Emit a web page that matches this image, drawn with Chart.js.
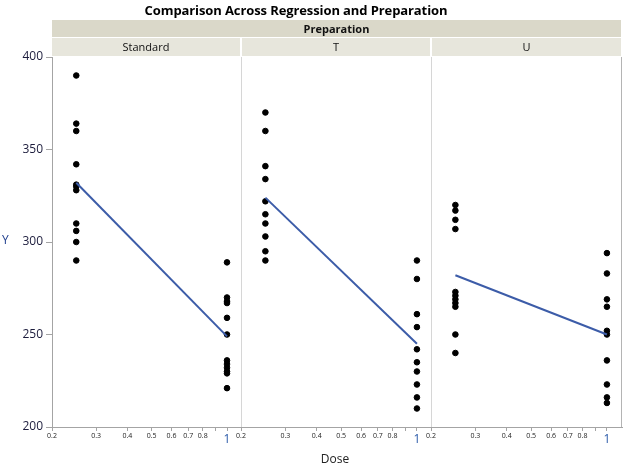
<!DOCTYPE html>
<html>
<head>
<meta charset="utf-8">
<script src="https://cdn.jsdelivr.net/npm/chart.js@4/dist/chart.umd.min.js"></script>
<style>
  body { margin: 0; background: #fff; font-family: "Open Sans", sans-serif; }
  #wrap { position: relative; width: 624px; height: 471px; overflow: hidden; }
  .box { position: absolute; top: 0; height: 471px; }
  .txt { position: absolute; white-space: nowrap; z-index: 2; }
  #titulo { left: 0; width: 592px; top: 1px; text-align: center; font-weight: bold; font-size: 13px; color: #000; letter-spacing: -0.1px; }
  #grupo { left: 52px; width: 569px; top: 20px; height: 17px; line-height: 17px; background: #dad8c9; text-align: center; font-weight: bold; font-size: 11px; color: #111; }
  .sub { top: 38px; height: 18px; line-height: 18px; background: #e7e6dc; text-align: center; font-size: 11px; color: #111; }
  #ylab { left: 2px; top: 231px; font-size: 12px; color: #1f3e8e; }
  #xlab { left: 0; width: 670px; top: 450px; text-align: center; font-size: 12px; color: #222; }
</style>
</head>
<body>
<div id="wrap">
  <div class="txt" id="titulo">Comparison Across Regression and Preparation</div>
  <div class="txt" id="grupo">Preparation</div>
  <div class="txt sub" style="left:52px;width:188px;">Standard</div>
  <div class="txt sub" style="left:242px;width:188px;">T</div>
  <div class="txt sub" style="left:432px;width:189px;">U</div>
  <div class="txt" id="ylab">Y</div>
  <div class="txt" id="xlab">Dose</div>

  <!-- el ancho lleva 5px extra: chart.js reserva ese margen a la derecha -->
  <div class="box" style="left:0;width:246px;"><canvas id="g1"></canvas></div>
  <div class="box" style="left:231px;width:205px;"><canvas id="g2"></canvas></div>
  <div class="box" style="left:421px;width:205px;"><canvas id="g3"></canvas></div>
</div>

<script>
// dosis (eje x logaritmico)
var dosisBaja = 0.25;
var dosisAlta = 1;
var ticksX = [0.2, 0.3, 0.4, 0.5, 0.6, 0.7, 0.8, 0.9, 1];
var ticksY = [200, 250, 300, 350, 400];

// valores, por preparacion
var standardBaja = [390, 364, 360, 342, 331, 330, 328, 310, 306, 300, 290];
var standardAlta = [289, 270, 268, 267, 259, 250, 236, 234, 232, 230, 229, 221];
var tBaja = [370, 360, 341, 334, 322, 315, 310, 303, 295, 290];
var tAlta = [290, 280, 261, 254, 242, 235, 230, 223, 216, 210];
var uBaja = [320, 317, 312, 307, 273, 271, 269, 267, 265, 250, 240];
var uAlta = [294, 283, 269, 265, 252, 250, 236, 223, 216, 213];

// recta de regresion: valor en dosis baja y en dosis alta
var standardRecta = [332, 249];
var tRecta = [324, 245];
var uRecta = [282, 250];

function puntos(baja, alta) {
  var d = [];
  for (var i = 0; i < baja.length; i++) d.push({ x: dosisBaja, y: baja[i] });
  for (var j = 0; j < alta.length; j++) d.push({ x: dosisAlta, y: alta[j] });
  return d;
}

var bordePanel = {
  id: 'bordePanel',
  afterDraw: function(chart, args, opts) {
    var a = chart.chartArea, ctx = chart.ctx;
    ctx.save();
    ctx.strokeStyle = opts.color || '#d6d6d6';
    ctx.lineWidth = 1;
    ctx.beginPath();
    ctx.moveTo(Math.round(a.right) - 0.5, a.top);
    ctx.lineTo(Math.round(a.right) - 0.5, a.bottom);
    ctx.stroke();
    ctx.restore();
  }
};

function grafico(id, baja, alta, recta, conEjeY, colorBorde) {
  new Chart(document.getElementById(id).getContext('2d'), {
    type: 'scatter',
    data: {
      datasets: [
        {
          type: 'line',
          data: [{ x: dosisBaja, y: recta[0] }, { x: dosisAlta, y: recta[1] }],
          borderColor: '#3c5ca8',
          borderWidth: 2,
          pointRadius: 0,
          fill: false
        },
        {
          data: puntos(baja, alta),
          backgroundColor: '#000',
          borderColor: '#000',
          pointRadius: 2.8,
          pointHoverRadius: 2.8
        }
      ]
    },
    options: {
      responsive: true,
      maintainAspectRatio: false,
      animation: false,
      layout: { padding: { top: 57, left: conEjeY ? 0 : 10, right: 0, bottom: 0 } },
      plugins: {
        legend: { display: false },
        tooltip: { enabled: false },
        bordePanel: { color: colorBorde }
      },
      scales: {
        x: {
          type: 'logarithmic',
          bounds: 'data',
          min: 0.2,
          max: 1.15,
          afterBuildTicks: function(s) {
            s.ticks = ticksX.map(function(v) { return { value: v }; });
            s.min = 0.2;
            s.max = 1.15;
          },
          afterFit: function(s) {
            s.height = 44;
            s.paddingLeft = 0;
            s.paddingRight = 0;
          },
          border: { color: '#a4a4a4' },
          grid: { drawOnChartArea: false, tickLength: 4, color: '#a4a4a4' },
          ticks: {
            autoSkip: false,
            maxRotation: 0,
            minRotation: 0,
            padding: 1,
            callback: function(v) {
              if (v === 0.9) return '';
              return String(v);
            },
            color: function(c) { return c.tick && c.tick.value === 1 ? '#2858a8' : '#222'; },
            font: function(c) {
              return c.tick && c.tick.value === 1
                ? { family: 'Open Sans', size: 12 }
                : { family: 'Open Sans', size: 7 };
            }
          }
        },
        y: {
          display: conEjeY,
          min: 200,
          max: 400,
          afterBuildTicks: function(s) {
            s.ticks = ticksY.map(function(v) { return { value: v }; });
          },
          afterFit: function(s) {
            s.width = conEjeY ? 52 : 0;
            s.paddingTop = 0;
            s.paddingBottom = 0;
          },
          border: { color: '#a4a4a4' },
          grid: { drawOnChartArea: false, tickLength: 6, color: '#a4a4a4' },
          ticks: {
            padding: 3,
            color: '#1c1c3c',
            font: { family: 'Open Sans', size: 12 }
          }
        }
      }
    },
    plugins: [bordePanel]
  });
}

grafico('g1', standardBaja, standardAlta, standardRecta, true, '#d6d6d6');
grafico('g2', tBaja, tAlta, tRecta, false, '#d6d6d6');
grafico('g3', uBaja, uAlta, uRecta, false, '#b4b4b4');
</script>
</body>
</html>
